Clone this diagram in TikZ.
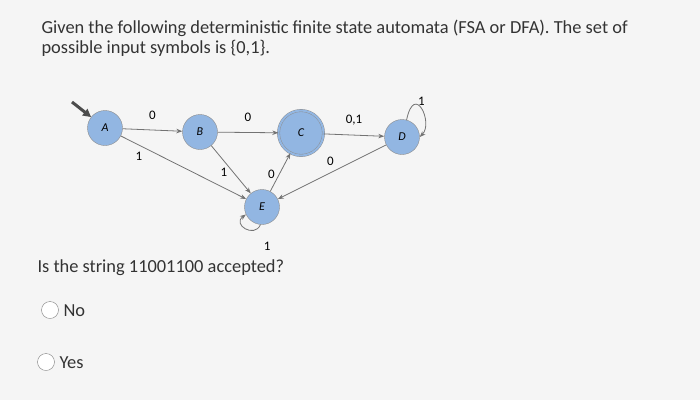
\documentclass[tikz,border=0pt]{standalone}
\usepackage{fontspec}
\setmainfont{Carlito}
\usetikzlibrary{arrows.meta}
\definecolor{nodefill}{RGB}{146,182,226}
\begin{document}
\begin{tikzpicture}[x=1pt,y=-1pt,
  st/.style={circle,draw=black!45,fill=nodefill,inner sep=0pt,minimum size=35pt,font=\itshape\fontsize{12}{12}\selectfont},
  tr/.style={draw=black!55,-{Stealth[length=6pt]},line width=0.8pt},
  lb/.style={font=\fontsize{13}{13}\selectfont},
  txt/.style={anchor=west,font=\fontsize{18.4}{22}\selectfont,text=black!80}]
\fill[gray!8] (0,0) rectangle (700,400);
\useasboundingbox (0,0) rectangle (700,400);
\node[txt] (t1) at (38,28) {Given the following deterministic finite state automata (FSA or DFA). The set of};
\node[txt] (t2) at (38,48) {possible input symbols is \{0,1\}.};
\node[st] (A) at (105,128) {A};
\node[st] (B) at (200,132) {B};
\node[st,minimum size=45pt,double=nodefill,double distance=2pt] (C) at (301,133) {C};
\node[st] (D) at (402,137) {D};
\node[st] (E) at (262,207) {E};
\coordinate (s) at (72,102);
\draw[-{Triangle[length=8pt,width=8pt]},line width=3pt,black!70] (s) -- (A);
\draw[tr] (A) -- node[lb,above=7pt]{0} (B);
\draw[tr] (B) -- node[lb,above=7pt]{0} (C);
\draw[tr] (C) -- node[lb,above=6pt]{0,1} (D);
\draw[tr] (A) -- node[lb,pos=0.2,below left=0pt]{1} (E);
\draw[tr] (B) -- node[lb,pos=0.55,left=2pt]{1} (E);
\draw[tr] (E) -- node[lb,pos=0.45,left=1pt]{0} (C);
\draw[tr] (D) -- node[lb,pos=0.45,above left=0pt]{0} (E);
\draw[tr] (D.75) .. controls +(8,-38) and +(14,-14) .. node[lb,above]{1} (D.0);
\draw[tr] (E.265) .. controls +(-6,14) and +(-14,10) .. node[lb,pos=0.3,below right=8pt]{1} (E.205);
\node[txt] (q) at (34,268) {Is the string 11001100 accepted?};
\node[circle,draw=black!50,fill=white,minimum size=17pt,inner sep=0pt] (r1) at (50,310) {};
\node[txt] (no) at (60,311) {No};
\node[circle,draw=black!50,fill=white,minimum size=17pt,inner sep=0pt] (r2) at (46,362) {};
\node[txt] (yes) at (56,363) {Yes};
\end{tikzpicture}
\end{document}
